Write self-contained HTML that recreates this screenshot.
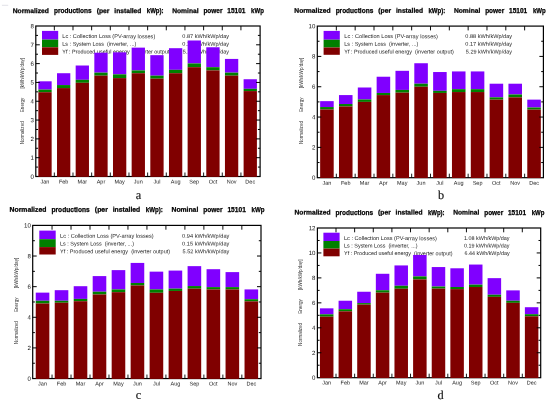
<!DOCTYPE html>
<html><head><meta charset="utf-8"><title>Normalized productions</title>
<style>
html,body{margin:0;padding:0;background:#fff;}
body{width:550px;height:404px;overflow:hidden;}
svg{display:block;filter:blur(0.35px);font-family:"Liberation Sans",Arial,sans-serif;}
</style></head><body>
<svg width="550" height="404" viewBox="0 0 550 404">
<rect width="550" height="404" fill="#fff"/>
<line x1="1.9" y1="5.3" x2="8.2" y2="5.3" stroke="#d4d4dc" stroke-width="0.7"/>
<g id="chart-a">
<text transform="matrix(1,.0005,0,1,0,0)" x="12.7" y="13.09" font-size="6.7" textLength="36.2" lengthAdjust="spacingAndGlyphs" font-weight="bold" fill="#000" stroke="#000" stroke-width="0.25">Normalized</text>
<text transform="matrix(1,.0005,0,1,0,0)" x="54" y="13.07" font-size="6.7" textLength="37.6" lengthAdjust="spacingAndGlyphs" font-weight="bold" fill="#000" stroke="#000" stroke-width="0.25">productions</text>
<text transform="matrix(1,.0005,0,1,0,0)" x="96.7" y="13.05" font-size="6.7" textLength="12.8" lengthAdjust="spacingAndGlyphs" font-weight="bold" fill="#000" stroke="#000" stroke-width="0.25">(per</text>
<text transform="matrix(1,.0005,0,1,0,0)" x="114.3" y="13.04" font-size="6.7" textLength="27.1" lengthAdjust="spacingAndGlyphs" font-weight="bold" fill="#000" stroke="#000" stroke-width="0.25">installed</text>
<text transform="matrix(1,.0005,0,1,0,0)" x="146.8" y="13.03" font-size="6.7" textLength="16.8" lengthAdjust="spacingAndGlyphs" font-weight="bold" fill="#000" stroke="#000" stroke-width="0.25">kWp):</text>
<text transform="matrix(1,.0005,0,1,0,0)" x="172.2" y="13.01" font-size="6.7" textLength="26.4" lengthAdjust="spacingAndGlyphs" font-weight="bold" fill="#000" stroke="#000" stroke-width="0.25">Nominal</text>
<text transform="matrix(1,.0005,0,1,0,0)" x="203.4" y="13" font-size="6.7" textLength="19.1" lengthAdjust="spacingAndGlyphs" font-weight="bold" fill="#000" stroke="#000" stroke-width="0.25">power</text>
<text transform="matrix(1,.0005,0,1,0,0)" x="227.3" y="12.99" font-size="6.7" textLength="18.1" lengthAdjust="spacingAndGlyphs" font-weight="bold" fill="#000" stroke="#000" stroke-width="0.25">15101</text>
<text transform="matrix(1,.0005,0,1,0,0)" x="251.1" y="12.97" font-size="6.7" textLength="12.8" lengthAdjust="spacingAndGlyphs" font-weight="bold" fill="#000" stroke="#000" stroke-width="0.25">kWp</text>
<rect x="42" y="30.9" width="16.2" height="8.7" fill="#8000ff"/>
<rect x="42" y="39.6" width="16.2" height="7.7" fill="#008000"/>
<rect x="42" y="47.3" width="16.2" height="7.6" fill="#800000"/>
<text transform="matrix(1,.0005,0,1,0,0)" x="62.3" y="38.07" font-size="5.5" textLength="93" lengthAdjust="spacingAndGlyphs" fill="#222" xml:space="preserve">Lc : Collection Loss (PV-array losses)</text>
<text transform="matrix(1,.0005,0,1,0,0)" x="182.3" y="38.01" font-size="5.5" textLength="46.8" lengthAdjust="spacingAndGlyphs" fill="#222">0.87 kWh/kWp/day</text>
<text transform="matrix(1,.0005,0,1,0,0)" x="62.3" y="45.77" font-size="5.5" textLength="74" lengthAdjust="spacingAndGlyphs" fill="#222" xml:space="preserve">Ls : System Loss  (inverter, ...)</text>
<text transform="matrix(1,.0005,0,1,0,0)" x="182.3" y="45.71" font-size="5.5" textLength="46.8" lengthAdjust="spacingAndGlyphs" fill="#222">0.17 kWh/kWp/day</text>
<text transform="matrix(1,.0005,0,1,0,0)" x="62.3" y="53.47" font-size="5.5" textLength="109" lengthAdjust="spacingAndGlyphs" fill="#222" xml:space="preserve">Yf : Produced useful energy  (inverter output)</text>
<text transform="matrix(1,.0005,0,1,0,0)" x="182.8" y="53.41" font-size="5.5" textLength="46.3" lengthAdjust="spacingAndGlyphs" fill="#222">5.29 kWh/kWp/day</text>
<rect x="35.8" y="26" width="224.3" height="150.5" fill="none" stroke="#000" stroke-width="1.2"/>
<rect x="38.35" y="81.31" width="13.3" height="8.28" fill="#8000ff"/>
<rect x="38.35" y="89.59" width="13.3" height="2.63" fill="#008000"/>
<rect x="38.35" y="92.22" width="13.3" height="84.63" fill="#800000"/>
<rect x="57.01" y="73.22" width="13.3" height="11.85" fill="#8000ff"/>
<rect x="57.01" y="85.07" width="13.3" height="3.01" fill="#008000"/>
<rect x="57.01" y="88.08" width="13.3" height="88.77" fill="#800000"/>
<rect x="75.67" y="65.51" width="13.3" height="14.3" fill="#8000ff"/>
<rect x="75.67" y="79.8" width="13.3" height="3.01" fill="#008000"/>
<rect x="75.67" y="82.81" width="13.3" height="94.04" fill="#800000"/>
<rect x="94.33" y="52.71" width="13.3" height="19.94" fill="#8000ff"/>
<rect x="94.33" y="72.66" width="13.3" height="3.01" fill="#008000"/>
<rect x="94.33" y="75.66" width="13.3" height="101.19" fill="#800000"/>
<rect x="112.99" y="52.34" width="13.3" height="22.01" fill="#8000ff"/>
<rect x="112.99" y="74.35" width="13.3" height="3.76" fill="#008000"/>
<rect x="112.99" y="78.11" width="13.3" height="98.74" fill="#800000"/>
<rect x="131.65" y="47.63" width="13.3" height="22.76" fill="#8000ff"/>
<rect x="131.65" y="70.4" width="13.3" height="2.82" fill="#008000"/>
<rect x="131.65" y="73.22" width="13.3" height="103.63" fill="#800000"/>
<rect x="150.31" y="55.16" width="13.3" height="20.51" fill="#8000ff"/>
<rect x="150.31" y="75.66" width="13.3" height="3.01" fill="#008000"/>
<rect x="150.31" y="78.67" width="13.3" height="98.17" fill="#800000"/>
<rect x="168.97" y="48.2" width="13.3" height="21.63" fill="#8000ff"/>
<rect x="168.97" y="69.83" width="13.3" height="3.39" fill="#008000"/>
<rect x="168.97" y="73.22" width="13.3" height="103.63" fill="#800000"/>
<rect x="187.63" y="40.49" width="13.3" height="22.95" fill="#8000ff"/>
<rect x="187.63" y="63.44" width="13.3" height="3.76" fill="#008000"/>
<rect x="187.63" y="67.2" width="13.3" height="109.65" fill="#800000"/>
<rect x="206.29" y="47.26" width="13.3" height="19.94" fill="#8000ff"/>
<rect x="206.29" y="67.2" width="13.3" height="3.2" fill="#008000"/>
<rect x="206.29" y="70.4" width="13.3" height="106.45" fill="#800000"/>
<rect x="224.95" y="58.92" width="13.3" height="13.73" fill="#8000ff"/>
<rect x="224.95" y="72.66" width="13.3" height="3.01" fill="#008000"/>
<rect x="224.95" y="75.66" width="13.3" height="101.19" fill="#800000"/>
<rect x="243.61" y="79.24" width="13.3" height="9.59" fill="#8000ff"/>
<rect x="243.61" y="88.83" width="13.3" height="2.26" fill="#008000"/>
<rect x="243.61" y="91.09" width="13.3" height="85.76" fill="#800000"/>
<text transform="matrix(1,.0005,0,1,0,0)" x="33.9" y="178.63" font-size="6.1" text-anchor="end" fill="#111">0</text>
<line x1="35.8" y1="167.09" x2="38" y2="167.09" stroke="#000" stroke-width="1"/>
<line x1="257.9" y1="167.09" x2="260.1" y2="167.09" stroke="#000" stroke-width="1"/>
<line x1="35.8" y1="157.69" x2="39.8" y2="157.69" stroke="#000" stroke-width="1"/>
<line x1="256.1" y1="157.69" x2="260.1" y2="157.69" stroke="#000" stroke-width="1"/>
<text transform="matrix(1,.0005,0,1,0,0)" x="33.9" y="159.82" font-size="6.1" text-anchor="end" fill="#111">1</text>
<line x1="35.8" y1="148.28" x2="38" y2="148.28" stroke="#000" stroke-width="1"/>
<line x1="257.9" y1="148.28" x2="260.1" y2="148.28" stroke="#000" stroke-width="1"/>
<line x1="35.8" y1="138.88" x2="39.8" y2="138.88" stroke="#000" stroke-width="1"/>
<line x1="256.1" y1="138.88" x2="260.1" y2="138.88" stroke="#000" stroke-width="1"/>
<text transform="matrix(1,.0005,0,1,0,0)" x="33.9" y="141.01" font-size="6.1" text-anchor="end" fill="#111">2</text>
<line x1="35.8" y1="129.47" x2="38" y2="129.47" stroke="#000" stroke-width="1"/>
<line x1="257.9" y1="129.47" x2="260.1" y2="129.47" stroke="#000" stroke-width="1"/>
<line x1="35.8" y1="120.06" x2="39.8" y2="120.06" stroke="#000" stroke-width="1"/>
<line x1="256.1" y1="120.06" x2="260.1" y2="120.06" stroke="#000" stroke-width="1"/>
<text transform="matrix(1,.0005,0,1,0,0)" x="33.9" y="122.2" font-size="6.1" text-anchor="end" fill="#111">3</text>
<line x1="35.8" y1="110.66" x2="38" y2="110.66" stroke="#000" stroke-width="1"/>
<line x1="257.9" y1="110.66" x2="260.1" y2="110.66" stroke="#000" stroke-width="1"/>
<line x1="35.8" y1="101.25" x2="39.8" y2="101.25" stroke="#000" stroke-width="1"/>
<line x1="256.1" y1="101.25" x2="260.1" y2="101.25" stroke="#000" stroke-width="1"/>
<text transform="matrix(1,.0005,0,1,0,0)" x="33.9" y="103.38" font-size="6.1" text-anchor="end" fill="#111">4</text>
<line x1="35.8" y1="91.84" x2="38" y2="91.84" stroke="#000" stroke-width="1"/>
<line x1="257.9" y1="91.84" x2="260.1" y2="91.84" stroke="#000" stroke-width="1"/>
<line x1="35.8" y1="82.44" x2="39.8" y2="82.44" stroke="#000" stroke-width="1"/>
<line x1="256.1" y1="82.44" x2="260.1" y2="82.44" stroke="#000" stroke-width="1"/>
<text transform="matrix(1,.0005,0,1,0,0)" x="33.9" y="84.57" font-size="6.1" text-anchor="end" fill="#111">5</text>
<line x1="35.8" y1="73.03" x2="38" y2="73.03" stroke="#000" stroke-width="1"/>
<line x1="257.9" y1="73.03" x2="260.1" y2="73.03" stroke="#000" stroke-width="1"/>
<line x1="35.8" y1="63.62" x2="39.8" y2="63.62" stroke="#000" stroke-width="1"/>
<line x1="256.1" y1="63.62" x2="260.1" y2="63.62" stroke="#000" stroke-width="1"/>
<text transform="matrix(1,.0005,0,1,0,0)" x="33.9" y="65.76" font-size="6.1" text-anchor="end" fill="#111">6</text>
<line x1="35.8" y1="54.22" x2="38" y2="54.22" stroke="#000" stroke-width="1"/>
<line x1="257.9" y1="54.22" x2="260.1" y2="54.22" stroke="#000" stroke-width="1"/>
<line x1="35.8" y1="44.81" x2="39.8" y2="44.81" stroke="#000" stroke-width="1"/>
<line x1="256.1" y1="44.81" x2="260.1" y2="44.81" stroke="#000" stroke-width="1"/>
<text transform="matrix(1,.0005,0,1,0,0)" x="33.9" y="46.95" font-size="6.1" text-anchor="end" fill="#111">7</text>
<line x1="35.8" y1="35.41" x2="38" y2="35.41" stroke="#000" stroke-width="1"/>
<line x1="257.9" y1="35.41" x2="260.1" y2="35.41" stroke="#000" stroke-width="1"/>
<text transform="matrix(1,.0005,0,1,0,0)" x="33.9" y="28.13" font-size="6.1" text-anchor="end" fill="#111">8</text>
<line x1="54.33" y1="26" x2="54.33" y2="30.3" stroke="#000" stroke-width="0.95"/>
<line x1="54.33" y1="172.5" x2="54.33" y2="176.5" stroke="#000" stroke-width="0.9"/>
<line x1="72.99" y1="26" x2="72.99" y2="30.3" stroke="#000" stroke-width="0.95"/>
<line x1="72.99" y1="172.5" x2="72.99" y2="176.5" stroke="#000" stroke-width="0.9"/>
<line x1="91.65" y1="26" x2="91.65" y2="30.3" stroke="#000" stroke-width="0.95"/>
<line x1="91.65" y1="172.5" x2="91.65" y2="176.5" stroke="#000" stroke-width="0.9"/>
<line x1="110.31" y1="26" x2="110.31" y2="30.3" stroke="#000" stroke-width="0.95"/>
<line x1="110.31" y1="172.5" x2="110.31" y2="176.5" stroke="#000" stroke-width="0.9"/>
<line x1="128.97" y1="26" x2="128.97" y2="30.3" stroke="#000" stroke-width="0.95"/>
<line x1="128.97" y1="172.5" x2="128.97" y2="176.5" stroke="#000" stroke-width="0.9"/>
<line x1="147.63" y1="26" x2="147.63" y2="30.3" stroke="#000" stroke-width="0.95"/>
<line x1="147.63" y1="172.5" x2="147.63" y2="176.5" stroke="#000" stroke-width="0.9"/>
<line x1="166.29" y1="26" x2="166.29" y2="30.3" stroke="#000" stroke-width="0.95"/>
<line x1="166.29" y1="172.5" x2="166.29" y2="176.5" stroke="#000" stroke-width="0.9"/>
<line x1="184.95" y1="26" x2="184.95" y2="30.3" stroke="#000" stroke-width="0.95"/>
<line x1="184.95" y1="172.5" x2="184.95" y2="176.5" stroke="#000" stroke-width="0.9"/>
<line x1="203.61" y1="26" x2="203.61" y2="30.3" stroke="#000" stroke-width="0.95"/>
<line x1="203.61" y1="172.5" x2="203.61" y2="176.5" stroke="#000" stroke-width="0.9"/>
<line x1="222.27" y1="26" x2="222.27" y2="30.3" stroke="#000" stroke-width="0.95"/>
<line x1="222.27" y1="172.5" x2="222.27" y2="176.5" stroke="#000" stroke-width="0.9"/>
<line x1="240.93" y1="26" x2="240.93" y2="30.3" stroke="#000" stroke-width="0.95"/>
<line x1="240.93" y1="172.5" x2="240.93" y2="176.5" stroke="#000" stroke-width="0.9"/>
<text transform="matrix(1,.0005,0,1,0,0)" x="45" y="183.58" font-size="5.5" text-anchor="middle" fill="#222">Jan</text>
<text transform="matrix(1,.0005,0,1,0,0)" x="63.66" y="183.57" font-size="5.5" text-anchor="middle" fill="#222">Feb</text>
<text transform="matrix(1,.0005,0,1,0,0)" x="82.32" y="183.56" font-size="5.5" text-anchor="middle" fill="#222">Mar</text>
<text transform="matrix(1,.0005,0,1,0,0)" x="100.98" y="183.55" font-size="5.5" text-anchor="middle" fill="#222">Apr</text>
<text transform="matrix(1,.0005,0,1,0,0)" x="119.64" y="183.54" font-size="5.5" text-anchor="middle" fill="#222">May</text>
<text transform="matrix(1,.0005,0,1,0,0)" x="138.3" y="183.53" font-size="5.5" text-anchor="middle" fill="#222">Jun</text>
<text transform="matrix(1,.0005,0,1,0,0)" x="156.96" y="183.52" font-size="5.5" text-anchor="middle" fill="#222">Jul</text>
<text transform="matrix(1,.0005,0,1,0,0)" x="175.62" y="183.51" font-size="5.5" text-anchor="middle" fill="#222">Aug</text>
<text transform="matrix(1,.0005,0,1,0,0)" x="194.28" y="183.5" font-size="5.5" text-anchor="middle" fill="#222">Sep</text>
<text transform="matrix(1,.0005,0,1,0,0)" x="212.94" y="183.49" font-size="5.5" text-anchor="middle" fill="#222">Oct</text>
<text transform="matrix(1,.0005,0,1,0,0)" x="231.6" y="183.48" font-size="5.5" text-anchor="middle" fill="#222">Nov</text>
<text transform="matrix(1,.0005,0,1,0,0)" x="250.26" y="183.47" font-size="5.5" text-anchor="middle" fill="#222">Dec</text>
<text transform="translate(24,132.8) rotate(-90)" font-size="4.55" text-anchor="middle" textLength="23" lengthAdjust="spacingAndGlyphs" fill="#333">Normalized</text>
<text transform="translate(24,104.9) rotate(-90)" font-size="4.55" text-anchor="middle" textLength="14.6" lengthAdjust="spacingAndGlyphs" fill="#333">Energy</text>
<text transform="translate(24,73.25) rotate(-90)" font-size="4.55" text-anchor="middle" textLength="30.5" lengthAdjust="spacingAndGlyphs" fill="#333">[kWh/kWp/day]</text>
<text transform="matrix(1,.0005,0,1,0,0)" x="138.5" y="198.83" font-size="12.3" text-anchor="middle" font-family="Liberation Serif, serif" fill="#111" stroke="#111" stroke-width="0.15">a</text>
</g>
<g id="chart-b">
<text transform="matrix(1,.0005,0,1,0,0)" x="294.3" y="12.65" font-size="6.71" textLength="36.23" lengthAdjust="spacingAndGlyphs" font-weight="bold" fill="#000" stroke="#000" stroke-width="0.25">Normalized</text>
<text transform="matrix(1,.0005,0,1,0,0)" x="335.63" y="12.63" font-size="6.71" textLength="37.63" lengthAdjust="spacingAndGlyphs" font-weight="bold" fill="#000" stroke="#000" stroke-width="0.25">productions</text>
<text transform="matrix(1,.0005,0,1,0,0)" x="378.37" y="12.61" font-size="6.71" textLength="12.81" lengthAdjust="spacingAndGlyphs" font-weight="bold" fill="#000" stroke="#000" stroke-width="0.25">(per</text>
<text transform="matrix(1,.0005,0,1,0,0)" x="395.98" y="12.6" font-size="6.71" textLength="27.12" lengthAdjust="spacingAndGlyphs" font-weight="bold" fill="#000" stroke="#000" stroke-width="0.25">installed</text>
<text transform="matrix(1,.0005,0,1,0,0)" x="428.51" y="12.59" font-size="6.71" textLength="16.81" lengthAdjust="spacingAndGlyphs" font-weight="bold" fill="#000" stroke="#000" stroke-width="0.25">kWp):</text>
<text transform="matrix(1,.0005,0,1,0,0)" x="453.93" y="12.57" font-size="6.71" textLength="26.42" lengthAdjust="spacingAndGlyphs" font-weight="bold" fill="#000" stroke="#000" stroke-width="0.25">Nominal</text>
<text transform="matrix(1,.0005,0,1,0,0)" x="485.15" y="12.56" font-size="6.71" textLength="19.12" lengthAdjust="spacingAndGlyphs" font-weight="bold" fill="#000" stroke="#000" stroke-width="0.25">power</text>
<text transform="matrix(1,.0005,0,1,0,0)" x="509.07" y="12.55" font-size="6.71" textLength="18.11" lengthAdjust="spacingAndGlyphs" font-weight="bold" fill="#000" stroke="#000" stroke-width="0.25">15101</text>
<text transform="matrix(1,.0005,0,1,0,0)" x="532.89" y="12.53" font-size="6.71" textLength="12.81" lengthAdjust="spacingAndGlyphs" font-weight="bold" fill="#000" stroke="#000" stroke-width="0.25">kWp</text>
<rect x="317.3" y="26.1" width="226.1" height="151.6" fill="none" stroke="#000" stroke-width="1.2"/>
<rect x="320.15" y="101.14" width="13.55" height="5.91" fill="#8000ff"/>
<rect x="320.15" y="107.05" width="13.55" height="2.43" fill="#008000"/>
<rect x="320.15" y="109.48" width="13.55" height="68.57" fill="#800000"/>
<rect x="338.98" y="95.08" width="13.55" height="8.94" fill="#8000ff"/>
<rect x="338.98" y="104.02" width="13.55" height="2.43" fill="#008000"/>
<rect x="338.98" y="106.45" width="13.55" height="71.6" fill="#800000"/>
<rect x="357.81" y="87.5" width="13.55" height="11.98" fill="#8000ff"/>
<rect x="357.81" y="99.47" width="13.55" height="2.43" fill="#008000"/>
<rect x="357.81" y="101.9" width="13.55" height="76.15" fill="#800000"/>
<rect x="376.64" y="76.73" width="13.55" height="16.22" fill="#8000ff"/>
<rect x="376.64" y="92.96" width="13.55" height="2.12" fill="#008000"/>
<rect x="376.64" y="95.08" width="13.55" height="82.97" fill="#800000"/>
<rect x="395.47" y="70.82" width="13.55" height="19.1" fill="#8000ff"/>
<rect x="395.47" y="89.92" width="13.55" height="2.73" fill="#008000"/>
<rect x="395.47" y="92.65" width="13.55" height="85.4" fill="#800000"/>
<rect x="414.3" y="63.24" width="13.55" height="20.47" fill="#8000ff"/>
<rect x="414.3" y="83.71" width="13.55" height="3.03" fill="#008000"/>
<rect x="414.3" y="86.74" width="13.55" height="91.31" fill="#800000"/>
<rect x="433.13" y="72.03" width="13.55" height="18.8" fill="#8000ff"/>
<rect x="433.13" y="90.83" width="13.55" height="2.12" fill="#008000"/>
<rect x="433.13" y="92.96" width="13.55" height="85.09" fill="#800000"/>
<rect x="451.96" y="71.43" width="13.55" height="17.74" fill="#8000ff"/>
<rect x="451.96" y="89.17" width="13.55" height="2.88" fill="#008000"/>
<rect x="451.96" y="92.05" width="13.55" height="86" fill="#800000"/>
<rect x="470.79" y="71.43" width="13.55" height="17.74" fill="#8000ff"/>
<rect x="470.79" y="89.17" width="13.55" height="2.88" fill="#008000"/>
<rect x="470.79" y="92.05" width="13.55" height="86" fill="#800000"/>
<rect x="489.62" y="83.71" width="13.55" height="13.64" fill="#8000ff"/>
<rect x="489.62" y="97.35" width="13.55" height="2.27" fill="#008000"/>
<rect x="489.62" y="99.63" width="13.55" height="78.42" fill="#800000"/>
<rect x="508.45" y="83.71" width="13.55" height="10.76" fill="#8000ff"/>
<rect x="508.45" y="94.47" width="13.55" height="2.88" fill="#008000"/>
<rect x="508.45" y="97.35" width="13.55" height="80.7" fill="#800000"/>
<rect x="527.28" y="99.63" width="13.55" height="7.88" fill="#8000ff"/>
<rect x="527.28" y="107.51" width="13.55" height="2.12" fill="#008000"/>
<rect x="527.28" y="109.63" width="13.55" height="68.42" fill="#800000"/>
<rect x="323.6" y="30.9" width="16.2" height="8.8" fill="#8000ff"/>
<rect x="323.6" y="39.7" width="16.2" height="7.8" fill="#008000"/>
<rect x="323.6" y="47.5" width="16.2" height="7.3" fill="#800000"/>
<text transform="matrix(1,.0005,0,1,0,0)" x="344.3" y="37.93" font-size="5.5" textLength="93.7" lengthAdjust="spacingAndGlyphs" fill="#222" xml:space="preserve">Lc : Collection Loss (PV-array losses)</text>
<text transform="matrix(1,.0005,0,1,0,0)" x="465.3" y="37.87" font-size="5.5" textLength="46.8" lengthAdjust="spacingAndGlyphs" fill="#222">0.88 kWh/kWp/day</text>
<text transform="matrix(1,.0005,0,1,0,0)" x="344.3" y="45.63" font-size="5.5" textLength="74" lengthAdjust="spacingAndGlyphs" fill="#222" xml:space="preserve">Ls : System Loss  (inverter, ...)</text>
<text transform="matrix(1,.0005,0,1,0,0)" x="465.3" y="45.57" font-size="5.5" textLength="46.8" lengthAdjust="spacingAndGlyphs" fill="#222">0.17 kWh/kWp/day</text>
<text transform="matrix(1,.0005,0,1,0,0)" x="344.3" y="53.33" font-size="5.5" textLength="109.5" lengthAdjust="spacingAndGlyphs" fill="#222" xml:space="preserve">Yf : Produced useful energy  (inverter output)</text>
<text transform="matrix(1,.0005,0,1,0,0)" x="465.8" y="53.27" font-size="5.5" textLength="46.3" lengthAdjust="spacingAndGlyphs" fill="#222">5.29 kWh/kWp/day</text>
<text transform="matrix(1,.0005,0,1,0,0)" x="315.4" y="179.69" font-size="6.1" text-anchor="end" fill="#111">0</text>
<line x1="317.3" y1="162.54" x2="319.5" y2="162.54" stroke="#000" stroke-width="1"/>
<line x1="541.2" y1="162.54" x2="543.4" y2="162.54" stroke="#000" stroke-width="1"/>
<line x1="317.3" y1="147.38" x2="321.3" y2="147.38" stroke="#000" stroke-width="1"/>
<line x1="539.4" y1="147.38" x2="543.4" y2="147.38" stroke="#000" stroke-width="1"/>
<text transform="matrix(1,.0005,0,1,0,0)" x="315.4" y="149.37" font-size="6.1" text-anchor="end" fill="#111">2</text>
<line x1="317.3" y1="132.22" x2="319.5" y2="132.22" stroke="#000" stroke-width="1"/>
<line x1="541.2" y1="132.22" x2="543.4" y2="132.22" stroke="#000" stroke-width="1"/>
<line x1="317.3" y1="117.06" x2="321.3" y2="117.06" stroke="#000" stroke-width="1"/>
<line x1="539.4" y1="117.06" x2="543.4" y2="117.06" stroke="#000" stroke-width="1"/>
<text transform="matrix(1,.0005,0,1,0,0)" x="315.4" y="119.05" font-size="6.1" text-anchor="end" fill="#111">4</text>
<line x1="317.3" y1="101.9" x2="319.5" y2="101.9" stroke="#000" stroke-width="1"/>
<line x1="541.2" y1="101.9" x2="543.4" y2="101.9" stroke="#000" stroke-width="1"/>
<line x1="317.3" y1="86.74" x2="321.3" y2="86.74" stroke="#000" stroke-width="1"/>
<line x1="539.4" y1="86.74" x2="543.4" y2="86.74" stroke="#000" stroke-width="1"/>
<text transform="matrix(1,.0005,0,1,0,0)" x="315.4" y="88.73" font-size="6.1" text-anchor="end" fill="#111">6</text>
<line x1="317.3" y1="71.58" x2="319.5" y2="71.58" stroke="#000" stroke-width="1"/>
<line x1="541.2" y1="71.58" x2="543.4" y2="71.58" stroke="#000" stroke-width="1"/>
<line x1="317.3" y1="56.42" x2="321.3" y2="56.42" stroke="#000" stroke-width="1"/>
<line x1="539.4" y1="56.42" x2="543.4" y2="56.42" stroke="#000" stroke-width="1"/>
<text transform="matrix(1,.0005,0,1,0,0)" x="315.4" y="58.41" font-size="6.1" text-anchor="end" fill="#111">8</text>
<line x1="317.3" y1="41.26" x2="319.5" y2="41.26" stroke="#000" stroke-width="1"/>
<line x1="541.2" y1="41.26" x2="543.4" y2="41.26" stroke="#000" stroke-width="1"/>
<text transform="matrix(1,.0005,0,1,0,0)" x="315.4" y="28.09" font-size="6.1" text-anchor="end" fill="#111">10</text>
<line x1="336.34" y1="26.1" x2="336.34" y2="30.4" stroke="#000" stroke-width="0.95"/>
<line x1="336.34" y1="173.7" x2="336.34" y2="177.7" stroke="#000" stroke-width="0.9"/>
<line x1="355.17" y1="26.1" x2="355.17" y2="30.4" stroke="#000" stroke-width="0.95"/>
<line x1="355.17" y1="173.7" x2="355.17" y2="177.7" stroke="#000" stroke-width="0.9"/>
<line x1="374" y1="26.1" x2="374" y2="30.4" stroke="#000" stroke-width="0.95"/>
<line x1="374" y1="173.7" x2="374" y2="177.7" stroke="#000" stroke-width="0.9"/>
<line x1="392.83" y1="26.1" x2="392.83" y2="30.4" stroke="#000" stroke-width="0.95"/>
<line x1="392.83" y1="173.7" x2="392.83" y2="177.7" stroke="#000" stroke-width="0.9"/>
<line x1="411.66" y1="26.1" x2="411.66" y2="30.4" stroke="#000" stroke-width="0.95"/>
<line x1="411.66" y1="173.7" x2="411.66" y2="177.7" stroke="#000" stroke-width="0.9"/>
<line x1="430.49" y1="26.1" x2="430.49" y2="30.4" stroke="#000" stroke-width="0.95"/>
<line x1="430.49" y1="173.7" x2="430.49" y2="177.7" stroke="#000" stroke-width="0.9"/>
<line x1="449.32" y1="26.1" x2="449.32" y2="30.4" stroke="#000" stroke-width="0.95"/>
<line x1="449.32" y1="173.7" x2="449.32" y2="177.7" stroke="#000" stroke-width="0.9"/>
<line x1="468.15" y1="26.1" x2="468.15" y2="30.4" stroke="#000" stroke-width="0.95"/>
<line x1="468.15" y1="173.7" x2="468.15" y2="177.7" stroke="#000" stroke-width="0.9"/>
<line x1="486.98" y1="26.1" x2="486.98" y2="30.4" stroke="#000" stroke-width="0.95"/>
<line x1="486.98" y1="173.7" x2="486.98" y2="177.7" stroke="#000" stroke-width="0.9"/>
<line x1="505.81" y1="26.1" x2="505.81" y2="30.4" stroke="#000" stroke-width="0.95"/>
<line x1="505.81" y1="173.7" x2="505.81" y2="177.7" stroke="#000" stroke-width="0.9"/>
<line x1="524.64" y1="26.1" x2="524.64" y2="30.4" stroke="#000" stroke-width="0.95"/>
<line x1="524.64" y1="173.7" x2="524.64" y2="177.7" stroke="#000" stroke-width="0.9"/>
<text transform="matrix(1,.0005,0,1,0,0)" x="326.92" y="184.54" font-size="5.5" text-anchor="middle" fill="#222">Jan</text>
<text transform="matrix(1,.0005,0,1,0,0)" x="345.75" y="184.53" font-size="5.5" text-anchor="middle" fill="#222">Feb</text>
<text transform="matrix(1,.0005,0,1,0,0)" x="364.58" y="184.52" font-size="5.5" text-anchor="middle" fill="#222">Mar</text>
<text transform="matrix(1,.0005,0,1,0,0)" x="383.41" y="184.51" font-size="5.5" text-anchor="middle" fill="#222">Apr</text>
<text transform="matrix(1,.0005,0,1,0,0)" x="402.24" y="184.5" font-size="5.5" text-anchor="middle" fill="#222">May</text>
<text transform="matrix(1,.0005,0,1,0,0)" x="421.07" y="184.49" font-size="5.5" text-anchor="middle" fill="#222">Jun</text>
<text transform="matrix(1,.0005,0,1,0,0)" x="439.9" y="184.48" font-size="5.5" text-anchor="middle" fill="#222">Jul</text>
<text transform="matrix(1,.0005,0,1,0,0)" x="458.73" y="184.47" font-size="5.5" text-anchor="middle" fill="#222">Aug</text>
<text transform="matrix(1,.0005,0,1,0,0)" x="477.56" y="184.46" font-size="5.5" text-anchor="middle" fill="#222">Sep</text>
<text transform="matrix(1,.0005,0,1,0,0)" x="496.39" y="184.45" font-size="5.5" text-anchor="middle" fill="#222">Oct</text>
<text transform="matrix(1,.0005,0,1,0,0)" x="515.22" y="184.44" font-size="5.5" text-anchor="middle" fill="#222">Nov</text>
<text transform="matrix(1,.0005,0,1,0,0)" x="534.05" y="184.43" font-size="5.5" text-anchor="middle" fill="#222">Dec</text>
<text transform="translate(303.2,132.55) rotate(-90)" font-size="4.55" text-anchor="middle" textLength="23" lengthAdjust="spacingAndGlyphs" fill="#333">Normalized</text>
<text transform="translate(303.2,104.65) rotate(-90)" font-size="4.55" text-anchor="middle" textLength="14.6" lengthAdjust="spacingAndGlyphs" fill="#333">Energy</text>
<text transform="translate(303.2,73) rotate(-90)" font-size="4.55" text-anchor="middle" textLength="30.5" lengthAdjust="spacingAndGlyphs" fill="#333">[kWh/kWp/day]</text>
<text transform="matrix(1,.0005,0,1,0,0)" x="441.2" y="198.68" font-size="12.3" text-anchor="middle" font-family="Liberation Serif, serif" fill="#111" stroke="#111" stroke-width="0.15">b</text>
</g>
<g id="chart-c">
<text transform="matrix(1,.0005,0,1,0,0)" x="9.6" y="211.8" font-size="6.8" textLength="36.75" lengthAdjust="spacingAndGlyphs" font-weight="bold" fill="#000" stroke="#000" stroke-width="0.25">Normalized</text>
<text transform="matrix(1,.0005,0,1,0,0)" x="51.52" y="211.77" font-size="6.8" textLength="38.17" lengthAdjust="spacingAndGlyphs" font-weight="bold" fill="#000" stroke="#000" stroke-width="0.25">productions</text>
<text transform="matrix(1,.0005,0,1,0,0)" x="94.87" y="211.75" font-size="6.8" textLength="12.99" lengthAdjust="spacingAndGlyphs" font-weight="bold" fill="#000" stroke="#000" stroke-width="0.25">(per</text>
<text transform="matrix(1,.0005,0,1,0,0)" x="112.74" y="211.74" font-size="6.8" textLength="27.51" lengthAdjust="spacingAndGlyphs" font-weight="bold" fill="#000" stroke="#000" stroke-width="0.25">installed</text>
<text transform="matrix(1,.0005,0,1,0,0)" x="145.73" y="211.73" font-size="6.8" textLength="17.05" lengthAdjust="spacingAndGlyphs" font-weight="bold" fill="#000" stroke="#000" stroke-width="0.25">kWp):</text>
<text transform="matrix(1,.0005,0,1,0,0)" x="171.51" y="211.71" font-size="6.8" textLength="26.8" lengthAdjust="spacingAndGlyphs" font-weight="bold" fill="#000" stroke="#000" stroke-width="0.25">Nominal</text>
<text transform="matrix(1,.0005,0,1,0,0)" x="203.18" y="211.7" font-size="6.8" textLength="19.39" lengthAdjust="spacingAndGlyphs" font-weight="bold" fill="#000" stroke="#000" stroke-width="0.25">power</text>
<text transform="matrix(1,.0005,0,1,0,0)" x="227.45" y="211.69" font-size="6.8" textLength="18.37" lengthAdjust="spacingAndGlyphs" font-weight="bold" fill="#000" stroke="#000" stroke-width="0.25">15101</text>
<text transform="matrix(1,.0005,0,1,0,0)" x="251.61" y="211.67" font-size="6.8" textLength="12.99" lengthAdjust="spacingAndGlyphs" font-weight="bold" fill="#000" stroke="#000" stroke-width="0.25">kWp</text>
<rect x="32.7" y="225.4" width="228.3" height="153.15" fill="none" stroke="#000" stroke-width="1.2"/>
<rect x="35.75" y="292.63" width="13.6" height="8.12" fill="#8000ff"/>
<rect x="35.75" y="300.75" width="13.6" height="2.76" fill="#008000"/>
<rect x="35.75" y="303.51" width="13.6" height="75.39" fill="#800000"/>
<rect x="54.73" y="290.18" width="13.6" height="10.57" fill="#8000ff"/>
<rect x="54.73" y="300.75" width="13.6" height="1.99" fill="#008000"/>
<rect x="54.73" y="302.74" width="13.6" height="76.16" fill="#800000"/>
<rect x="73.71" y="286.2" width="13.6" height="12.71" fill="#8000ff"/>
<rect x="73.71" y="298.91" width="13.6" height="2.3" fill="#008000"/>
<rect x="73.71" y="301.21" width="13.6" height="77.69" fill="#800000"/>
<rect x="92.69" y="276.09" width="13.6" height="15.62" fill="#8000ff"/>
<rect x="92.69" y="291.71" width="13.6" height="2.76" fill="#008000"/>
<rect x="92.69" y="294.47" width="13.6" height="84.43" fill="#800000"/>
<rect x="111.67" y="270.12" width="13.6" height="19.3" fill="#8000ff"/>
<rect x="111.67" y="289.42" width="13.6" height="2.76" fill="#008000"/>
<rect x="111.67" y="292.17" width="13.6" height="86.73" fill="#800000"/>
<rect x="130.65" y="262.92" width="13.6" height="20.06" fill="#8000ff"/>
<rect x="130.65" y="282.98" width="13.6" height="2.45" fill="#008000"/>
<rect x="130.65" y="285.43" width="13.6" height="93.47" fill="#800000"/>
<rect x="149.63" y="271.65" width="13.6" height="17.77" fill="#8000ff"/>
<rect x="149.63" y="289.42" width="13.6" height="3.37" fill="#008000"/>
<rect x="149.63" y="292.79" width="13.6" height="86.11" fill="#800000"/>
<rect x="168.61" y="270.58" width="13.6" height="18.07" fill="#8000ff"/>
<rect x="168.61" y="288.65" width="13.6" height="2.3" fill="#008000"/>
<rect x="168.61" y="290.95" width="13.6" height="87.95" fill="#800000"/>
<rect x="187.59" y="266.14" width="13.6" height="19.91" fill="#8000ff"/>
<rect x="187.59" y="286.05" width="13.6" height="2.6" fill="#008000"/>
<rect x="187.59" y="288.65" width="13.6" height="90.25" fill="#800000"/>
<rect x="206.57" y="269.2" width="13.6" height="17.92" fill="#8000ff"/>
<rect x="206.57" y="287.12" width="13.6" height="2.3" fill="#008000"/>
<rect x="206.57" y="289.42" width="13.6" height="89.48" fill="#800000"/>
<rect x="225.55" y="272.11" width="13.6" height="15.01" fill="#8000ff"/>
<rect x="225.55" y="287.12" width="13.6" height="2.3" fill="#008000"/>
<rect x="225.55" y="289.42" width="13.6" height="89.48" fill="#800000"/>
<rect x="244.53" y="289.42" width="13.6" height="9.8" fill="#8000ff"/>
<rect x="244.53" y="299.22" width="13.6" height="2.14" fill="#008000"/>
<rect x="244.53" y="301.36" width="13.6" height="77.54" fill="#800000"/>
<rect x="39.3" y="230.6" width="16.4" height="8.6" fill="#8000ff"/>
<rect x="39.3" y="239.2" width="16.4" height="7.9" fill="#008000"/>
<rect x="39.3" y="247.1" width="16.4" height="7.4" fill="#800000"/>
<text transform="matrix(1,.0005,0,1,0,0)" x="60" y="237.77" font-size="5.5" textLength="93.7" lengthAdjust="spacingAndGlyphs" fill="#222" xml:space="preserve">Lc : Collection Loss (PV-array losses)</text>
<text transform="matrix(1,.0005,0,1,0,0)" x="182.1" y="237.71" font-size="5.5" textLength="47.3" lengthAdjust="spacingAndGlyphs" fill="#222">0.94 kWh/kWp/day</text>
<text transform="matrix(1,.0005,0,1,0,0)" x="60" y="245.47" font-size="5.5" textLength="74" lengthAdjust="spacingAndGlyphs" fill="#222" xml:space="preserve">Ls : System Loss  (inverter, ...)</text>
<text transform="matrix(1,.0005,0,1,0,0)" x="182.1" y="245.41" font-size="5.5" textLength="47.3" lengthAdjust="spacingAndGlyphs" fill="#222">0.15 kWh/kWp/day</text>
<text transform="matrix(1,.0005,0,1,0,0)" x="60" y="253.17" font-size="5.5" textLength="110.1" lengthAdjust="spacingAndGlyphs" fill="#222" xml:space="preserve">Yf : Produced useful energy  (inverter output)</text>
<text transform="matrix(1,.0005,0,1,0,0)" x="182.6" y="253.11" font-size="5.5" textLength="46.8" lengthAdjust="spacingAndGlyphs" fill="#222">5.52 kWh/kWp/day</text>
<text transform="matrix(1,.0005,0,1,0,0)" x="30.8" y="380.68" font-size="6.1" text-anchor="end" fill="#111">0</text>
<line x1="32.7" y1="363.24" x2="34.9" y2="363.24" stroke="#000" stroke-width="1"/>
<line x1="258.8" y1="363.24" x2="261" y2="363.24" stroke="#000" stroke-width="1"/>
<line x1="32.7" y1="347.92" x2="36.7" y2="347.92" stroke="#000" stroke-width="1"/>
<line x1="257" y1="347.92" x2="261" y2="347.92" stroke="#000" stroke-width="1"/>
<text transform="matrix(1,.0005,0,1,0,0)" x="30.8" y="350.05" font-size="6.1" text-anchor="end" fill="#111">2</text>
<line x1="32.7" y1="332.61" x2="34.9" y2="332.61" stroke="#000" stroke-width="1"/>
<line x1="258.8" y1="332.61" x2="261" y2="332.61" stroke="#000" stroke-width="1"/>
<line x1="32.7" y1="317.29" x2="36.7" y2="317.29" stroke="#000" stroke-width="1"/>
<line x1="257" y1="317.29" x2="261" y2="317.29" stroke="#000" stroke-width="1"/>
<text transform="matrix(1,.0005,0,1,0,0)" x="30.8" y="319.42" font-size="6.1" text-anchor="end" fill="#111">4</text>
<line x1="32.7" y1="301.98" x2="34.9" y2="301.98" stroke="#000" stroke-width="1"/>
<line x1="258.8" y1="301.98" x2="261" y2="301.98" stroke="#000" stroke-width="1"/>
<line x1="32.7" y1="286.66" x2="36.7" y2="286.66" stroke="#000" stroke-width="1"/>
<line x1="257" y1="286.66" x2="261" y2="286.66" stroke="#000" stroke-width="1"/>
<text transform="matrix(1,.0005,0,1,0,0)" x="30.8" y="288.79" font-size="6.1" text-anchor="end" fill="#111">6</text>
<line x1="32.7" y1="271.35" x2="34.9" y2="271.35" stroke="#000" stroke-width="1"/>
<line x1="258.8" y1="271.35" x2="261" y2="271.35" stroke="#000" stroke-width="1"/>
<line x1="32.7" y1="256.03" x2="36.7" y2="256.03" stroke="#000" stroke-width="1"/>
<line x1="257" y1="256.03" x2="261" y2="256.03" stroke="#000" stroke-width="1"/>
<text transform="matrix(1,.0005,0,1,0,0)" x="30.8" y="258.16" font-size="6.1" text-anchor="end" fill="#111">8</text>
<line x1="32.7" y1="240.72" x2="34.9" y2="240.72" stroke="#000" stroke-width="1"/>
<line x1="258.8" y1="240.72" x2="261" y2="240.72" stroke="#000" stroke-width="1"/>
<text transform="matrix(1,.0005,0,1,0,0)" x="30.8" y="227.53" font-size="6.1" text-anchor="end" fill="#111">10</text>
<line x1="52.04" y1="225.4" x2="52.04" y2="229.7" stroke="#000" stroke-width="0.95"/>
<line x1="52.04" y1="374.55" x2="52.04" y2="378.55" stroke="#000" stroke-width="0.9"/>
<line x1="71.02" y1="225.4" x2="71.02" y2="229.7" stroke="#000" stroke-width="0.95"/>
<line x1="71.02" y1="374.55" x2="71.02" y2="378.55" stroke="#000" stroke-width="0.9"/>
<line x1="90" y1="225.4" x2="90" y2="229.7" stroke="#000" stroke-width="0.95"/>
<line x1="90" y1="374.55" x2="90" y2="378.55" stroke="#000" stroke-width="0.9"/>
<line x1="108.98" y1="225.4" x2="108.98" y2="229.7" stroke="#000" stroke-width="0.95"/>
<line x1="108.98" y1="374.55" x2="108.98" y2="378.55" stroke="#000" stroke-width="0.9"/>
<line x1="127.96" y1="225.4" x2="127.96" y2="229.7" stroke="#000" stroke-width="0.95"/>
<line x1="127.96" y1="374.55" x2="127.96" y2="378.55" stroke="#000" stroke-width="0.9"/>
<line x1="146.94" y1="225.4" x2="146.94" y2="229.7" stroke="#000" stroke-width="0.95"/>
<line x1="146.94" y1="374.55" x2="146.94" y2="378.55" stroke="#000" stroke-width="0.9"/>
<line x1="165.92" y1="225.4" x2="165.92" y2="229.7" stroke="#000" stroke-width="0.95"/>
<line x1="165.92" y1="374.55" x2="165.92" y2="378.55" stroke="#000" stroke-width="0.9"/>
<line x1="184.9" y1="225.4" x2="184.9" y2="229.7" stroke="#000" stroke-width="0.95"/>
<line x1="184.9" y1="374.55" x2="184.9" y2="378.55" stroke="#000" stroke-width="0.9"/>
<line x1="203.88" y1="225.4" x2="203.88" y2="229.7" stroke="#000" stroke-width="0.95"/>
<line x1="203.88" y1="374.55" x2="203.88" y2="378.55" stroke="#000" stroke-width="0.9"/>
<line x1="222.86" y1="225.4" x2="222.86" y2="229.7" stroke="#000" stroke-width="0.95"/>
<line x1="222.86" y1="374.55" x2="222.86" y2="378.55" stroke="#000" stroke-width="0.9"/>
<line x1="241.84" y1="225.4" x2="241.84" y2="229.7" stroke="#000" stroke-width="0.95"/>
<line x1="241.84" y1="374.55" x2="241.84" y2="378.55" stroke="#000" stroke-width="0.9"/>
<text transform="matrix(1,.0005,0,1,0,0)" x="42.55" y="385.48" font-size="5.5" text-anchor="middle" fill="#222">Jan</text>
<text transform="matrix(1,.0005,0,1,0,0)" x="61.53" y="385.47" font-size="5.5" text-anchor="middle" fill="#222">Feb</text>
<text transform="matrix(1,.0005,0,1,0,0)" x="80.51" y="385.46" font-size="5.5" text-anchor="middle" fill="#222">Mar</text>
<text transform="matrix(1,.0005,0,1,0,0)" x="99.49" y="385.45" font-size="5.5" text-anchor="middle" fill="#222">Apr</text>
<text transform="matrix(1,.0005,0,1,0,0)" x="118.47" y="385.44" font-size="5.5" text-anchor="middle" fill="#222">May</text>
<text transform="matrix(1,.0005,0,1,0,0)" x="137.45" y="385.43" font-size="5.5" text-anchor="middle" fill="#222">Jun</text>
<text transform="matrix(1,.0005,0,1,0,0)" x="156.43" y="385.42" font-size="5.5" text-anchor="middle" fill="#222">Jul</text>
<text transform="matrix(1,.0005,0,1,0,0)" x="175.41" y="385.41" font-size="5.5" text-anchor="middle" fill="#222">Aug</text>
<text transform="matrix(1,.0005,0,1,0,0)" x="194.39" y="385.4" font-size="5.5" text-anchor="middle" fill="#222">Sep</text>
<text transform="matrix(1,.0005,0,1,0,0)" x="213.37" y="385.39" font-size="5.5" text-anchor="middle" fill="#222">Oct</text>
<text transform="matrix(1,.0005,0,1,0,0)" x="232.35" y="385.38" font-size="5.5" text-anchor="middle" fill="#222">Nov</text>
<text transform="matrix(1,.0005,0,1,0,0)" x="251.33" y="385.37" font-size="5.5" text-anchor="middle" fill="#222">Dec</text>
<text transform="translate(18.2,332.63) rotate(-90)" font-size="4.55" text-anchor="middle" textLength="23" lengthAdjust="spacingAndGlyphs" fill="#333">Normalized</text>
<text transform="translate(18.2,304.73) rotate(-90)" font-size="4.55" text-anchor="middle" textLength="14.6" lengthAdjust="spacingAndGlyphs" fill="#333">Energy</text>
<text transform="translate(18.2,273.08) rotate(-90)" font-size="4.55" text-anchor="middle" textLength="30.5" lengthAdjust="spacingAndGlyphs" fill="#333">[kWh/kWp/day]</text>
<text transform="matrix(1,.0005,0,1,0,0)" x="138.6" y="398.73" font-size="12.3" text-anchor="middle" font-family="Liberation Serif, serif" fill="#111" stroke="#111" stroke-width="0.15">c</text>
</g>
<g id="chart-d">
<text transform="matrix(1,.0005,0,1,0,0)" x="294.5" y="214.45" font-size="6.67" textLength="36.01" lengthAdjust="spacingAndGlyphs" font-weight="bold" fill="#000" stroke="#000" stroke-width="0.25">Normalized</text>
<text transform="matrix(1,.0005,0,1,0,0)" x="335.59" y="214.43" font-size="6.67" textLength="37.41" lengthAdjust="spacingAndGlyphs" font-weight="bold" fill="#000" stroke="#000" stroke-width="0.25">productions</text>
<text transform="matrix(1,.0005,0,1,0,0)" x="378.07" y="214.41" font-size="6.67" textLength="12.73" lengthAdjust="spacingAndGlyphs" font-weight="bold" fill="#000" stroke="#000" stroke-width="0.25">(per</text>
<text transform="matrix(1,.0005,0,1,0,0)" x="395.57" y="214.4" font-size="6.67" textLength="26.96" lengthAdjust="spacingAndGlyphs" font-weight="bold" fill="#000" stroke="#000" stroke-width="0.25">installed</text>
<text transform="matrix(1,.0005,0,1,0,0)" x="427.91" y="214.39" font-size="6.67" textLength="16.71" lengthAdjust="spacingAndGlyphs" font-weight="bold" fill="#000" stroke="#000" stroke-width="0.25">kWp):</text>
<text transform="matrix(1,.0005,0,1,0,0)" x="453.17" y="214.37" font-size="6.67" textLength="26.26" lengthAdjust="spacingAndGlyphs" font-weight="bold" fill="#000" stroke="#000" stroke-width="0.25">Nominal</text>
<text transform="matrix(1,.0005,0,1,0,0)" x="484.21" y="214.36" font-size="6.67" textLength="19" lengthAdjust="spacingAndGlyphs" font-weight="bold" fill="#000" stroke="#000" stroke-width="0.25">power</text>
<text transform="matrix(1,.0005,0,1,0,0)" x="507.99" y="214.35" font-size="6.67" textLength="18.01" lengthAdjust="spacingAndGlyphs" font-weight="bold" fill="#000" stroke="#000" stroke-width="0.25">15101</text>
<text transform="matrix(1,.0005,0,1,0,0)" x="531.67" y="214.33" font-size="6.67" textLength="12.73" lengthAdjust="spacingAndGlyphs" font-weight="bold" fill="#000" stroke="#000" stroke-width="0.25">kWp</text>
<rect x="323.4" y="232.7" width="16.2" height="8.3" fill="#8000ff"/>
<rect x="323.4" y="241" width="16.2" height="7.6" fill="#008000"/>
<rect x="323.4" y="248.6" width="16.2" height="7.7" fill="#800000"/>
<text transform="matrix(1,.0005,0,1,0,0)" x="344" y="239.93" font-size="5.5" textLength="93" lengthAdjust="spacingAndGlyphs" fill="#222" xml:space="preserve">Lc : Collection Loss (PV-array losses)</text>
<text transform="matrix(1,.0005,0,1,0,0)" x="464" y="239.87" font-size="5.5" textLength="45.6" lengthAdjust="spacingAndGlyphs" fill="#222">1.08 kWh/kWp/day</text>
<text transform="matrix(1,.0005,0,1,0,0)" x="344" y="247.23" font-size="5.5" textLength="73.5" lengthAdjust="spacingAndGlyphs" fill="#222" xml:space="preserve">Ls : System Loss  (inverter, ...)</text>
<text transform="matrix(1,.0005,0,1,0,0)" x="464" y="247.17" font-size="5.5" textLength="45.6" lengthAdjust="spacingAndGlyphs" fill="#222">0.19 kWh/kWp/day</text>
<text transform="matrix(1,.0005,0,1,0,0)" x="344" y="254.93" font-size="5.5" textLength="108.5" lengthAdjust="spacingAndGlyphs" fill="#222" xml:space="preserve">Yf : Produced useful energy  (inverter output)</text>
<text transform="matrix(1,.0005,0,1,0,0)" x="464.5" y="254.87" font-size="5.5" textLength="45.1" lengthAdjust="spacingAndGlyphs" fill="#222">6.44 kWh/kWp/day</text>
<rect x="317.4" y="228" width="223.3" height="149.7" fill="none" stroke="#000" stroke-width="1.2"/>
<rect x="319.95" y="308.34" width="13.5" height="5.99" fill="#8000ff"/>
<rect x="319.95" y="314.33" width="13.5" height="2.37" fill="#008000"/>
<rect x="319.95" y="316.7" width="13.5" height="61.35" fill="#800000"/>
<rect x="338.58" y="300.73" width="13.5" height="8.48" fill="#8000ff"/>
<rect x="338.58" y="309.21" width="13.5" height="2.12" fill="#008000"/>
<rect x="338.58" y="311.33" width="13.5" height="66.72" fill="#800000"/>
<rect x="357.21" y="291.75" width="13.5" height="11.35" fill="#8000ff"/>
<rect x="357.21" y="303.1" width="13.5" height="1.5" fill="#008000"/>
<rect x="357.21" y="304.6" width="13.5" height="73.45" fill="#800000"/>
<rect x="375.84" y="273.78" width="13.5" height="16.47" fill="#8000ff"/>
<rect x="375.84" y="290.25" width="13.5" height="2.37" fill="#008000"/>
<rect x="375.84" y="292.62" width="13.5" height="85.43" fill="#800000"/>
<rect x="394.47" y="265.43" width="13.5" height="20.33" fill="#8000ff"/>
<rect x="394.47" y="285.76" width="13.5" height="2.99" fill="#008000"/>
<rect x="394.47" y="288.75" width="13.5" height="89.3" fill="#800000"/>
<rect x="413.1" y="254.95" width="13.5" height="21.46" fill="#8000ff"/>
<rect x="413.1" y="276.4" width="13.5" height="2.99" fill="#008000"/>
<rect x="413.1" y="279.4" width="13.5" height="98.65" fill="#800000"/>
<rect x="431.73" y="267.05" width="13.5" height="19.46" fill="#8000ff"/>
<rect x="431.73" y="286.51" width="13.5" height="2.12" fill="#008000"/>
<rect x="431.73" y="288.63" width="13.5" height="89.42" fill="#800000"/>
<rect x="450.36" y="268.29" width="13.5" height="18.71" fill="#8000ff"/>
<rect x="450.36" y="287.01" width="13.5" height="2.12" fill="#008000"/>
<rect x="450.36" y="289.13" width="13.5" height="88.92" fill="#800000"/>
<rect x="468.99" y="264.55" width="13.5" height="20.08" fill="#8000ff"/>
<rect x="468.99" y="284.64" width="13.5" height="2.37" fill="#008000"/>
<rect x="468.99" y="287.01" width="13.5" height="91.04" fill="#800000"/>
<rect x="487.62" y="278.15" width="13.5" height="16.59" fill="#8000ff"/>
<rect x="487.62" y="294.74" width="13.5" height="2.12" fill="#008000"/>
<rect x="487.62" y="296.86" width="13.5" height="81.19" fill="#800000"/>
<rect x="506.25" y="290.38" width="13.5" height="10.35" fill="#8000ff"/>
<rect x="506.25" y="300.73" width="13.5" height="2.12" fill="#008000"/>
<rect x="506.25" y="302.85" width="13.5" height="75.2" fill="#800000"/>
<rect x="524.88" y="307.22" width="13.5" height="6.99" fill="#8000ff"/>
<rect x="524.88" y="314.2" width="13.5" height="2.12" fill="#008000"/>
<rect x="524.88" y="316.32" width="13.5" height="61.73" fill="#800000"/>
<text transform="matrix(1,.0005,0,1,0,0)" x="315.5" y="379.69" font-size="6.1" text-anchor="end" fill="#111">0</text>
<line x1="317.4" y1="365.22" x2="319.6" y2="365.22" stroke="#000" stroke-width="1"/>
<line x1="538.5" y1="365.22" x2="540.7" y2="365.22" stroke="#000" stroke-width="1"/>
<line x1="317.4" y1="352.75" x2="321.4" y2="352.75" stroke="#000" stroke-width="1"/>
<line x1="536.7" y1="352.75" x2="540.7" y2="352.75" stroke="#000" stroke-width="1"/>
<text transform="matrix(1,.0005,0,1,0,0)" x="315.5" y="354.74" font-size="6.1" text-anchor="end" fill="#111">2</text>
<line x1="317.4" y1="340.27" x2="319.6" y2="340.27" stroke="#000" stroke-width="1"/>
<line x1="538.5" y1="340.27" x2="540.7" y2="340.27" stroke="#000" stroke-width="1"/>
<line x1="317.4" y1="327.8" x2="321.4" y2="327.8" stroke="#000" stroke-width="1"/>
<line x1="536.7" y1="327.8" x2="540.7" y2="327.8" stroke="#000" stroke-width="1"/>
<text transform="matrix(1,.0005,0,1,0,0)" x="315.5" y="329.79" font-size="6.1" text-anchor="end" fill="#111">4</text>
<line x1="317.4" y1="315.32" x2="319.6" y2="315.32" stroke="#000" stroke-width="1"/>
<line x1="538.5" y1="315.32" x2="540.7" y2="315.32" stroke="#000" stroke-width="1"/>
<line x1="317.4" y1="302.85" x2="321.4" y2="302.85" stroke="#000" stroke-width="1"/>
<line x1="536.7" y1="302.85" x2="540.7" y2="302.85" stroke="#000" stroke-width="1"/>
<text transform="matrix(1,.0005,0,1,0,0)" x="315.5" y="304.84" font-size="6.1" text-anchor="end" fill="#111">6</text>
<line x1="317.4" y1="290.38" x2="319.6" y2="290.38" stroke="#000" stroke-width="1"/>
<line x1="538.5" y1="290.38" x2="540.7" y2="290.38" stroke="#000" stroke-width="1"/>
<line x1="317.4" y1="277.9" x2="321.4" y2="277.9" stroke="#000" stroke-width="1"/>
<line x1="536.7" y1="277.9" x2="540.7" y2="277.9" stroke="#000" stroke-width="1"/>
<text transform="matrix(1,.0005,0,1,0,0)" x="315.5" y="279.89" font-size="6.1" text-anchor="end" fill="#111">8</text>
<line x1="317.4" y1="265.43" x2="319.6" y2="265.43" stroke="#000" stroke-width="1"/>
<line x1="538.5" y1="265.43" x2="540.7" y2="265.43" stroke="#000" stroke-width="1"/>
<line x1="317.4" y1="252.95" x2="321.4" y2="252.95" stroke="#000" stroke-width="1"/>
<line x1="536.7" y1="252.95" x2="540.7" y2="252.95" stroke="#000" stroke-width="1"/>
<text transform="matrix(1,.0005,0,1,0,0)" x="315.5" y="254.94" font-size="6.1" text-anchor="end" fill="#111">10</text>
<line x1="317.4" y1="240.47" x2="319.6" y2="240.47" stroke="#000" stroke-width="1"/>
<line x1="538.5" y1="240.47" x2="540.7" y2="240.47" stroke="#000" stroke-width="1"/>
<text transform="matrix(1,.0005,0,1,0,0)" x="315.5" y="229.99" font-size="6.1" text-anchor="end" fill="#111">12</text>
<line x1="336.01" y1="228" x2="336.01" y2="232.3" stroke="#000" stroke-width="0.95"/>
<line x1="336.01" y1="373.7" x2="336.01" y2="377.7" stroke="#000" stroke-width="0.9"/>
<line x1="354.64" y1="228" x2="354.64" y2="232.3" stroke="#000" stroke-width="0.95"/>
<line x1="354.64" y1="373.7" x2="354.64" y2="377.7" stroke="#000" stroke-width="0.9"/>
<line x1="373.27" y1="228" x2="373.27" y2="232.3" stroke="#000" stroke-width="0.95"/>
<line x1="373.27" y1="373.7" x2="373.27" y2="377.7" stroke="#000" stroke-width="0.9"/>
<line x1="391.9" y1="228" x2="391.9" y2="232.3" stroke="#000" stroke-width="0.95"/>
<line x1="391.9" y1="373.7" x2="391.9" y2="377.7" stroke="#000" stroke-width="0.9"/>
<line x1="410.53" y1="228" x2="410.53" y2="232.3" stroke="#000" stroke-width="0.95"/>
<line x1="410.53" y1="373.7" x2="410.53" y2="377.7" stroke="#000" stroke-width="0.9"/>
<line x1="429.17" y1="228" x2="429.17" y2="232.3" stroke="#000" stroke-width="0.95"/>
<line x1="429.17" y1="373.7" x2="429.17" y2="377.7" stroke="#000" stroke-width="0.9"/>
<line x1="447.8" y1="228" x2="447.8" y2="232.3" stroke="#000" stroke-width="0.95"/>
<line x1="447.8" y1="373.7" x2="447.8" y2="377.7" stroke="#000" stroke-width="0.9"/>
<line x1="466.43" y1="228" x2="466.43" y2="232.3" stroke="#000" stroke-width="0.95"/>
<line x1="466.43" y1="373.7" x2="466.43" y2="377.7" stroke="#000" stroke-width="0.9"/>
<line x1="485.06" y1="228" x2="485.06" y2="232.3" stroke="#000" stroke-width="0.95"/>
<line x1="485.06" y1="373.7" x2="485.06" y2="377.7" stroke="#000" stroke-width="0.9"/>
<line x1="503.69" y1="228" x2="503.69" y2="232.3" stroke="#000" stroke-width="0.95"/>
<line x1="503.69" y1="373.7" x2="503.69" y2="377.7" stroke="#000" stroke-width="0.9"/>
<line x1="522.31" y1="228" x2="522.31" y2="232.3" stroke="#000" stroke-width="0.95"/>
<line x1="522.31" y1="373.7" x2="522.31" y2="377.7" stroke="#000" stroke-width="0.9"/>
<text transform="matrix(1,.0005,0,1,0,0)" x="326.7" y="384.44" font-size="5.5" text-anchor="middle" fill="#222">Jan</text>
<text transform="matrix(1,.0005,0,1,0,0)" x="345.33" y="384.43" font-size="5.5" text-anchor="middle" fill="#222">Feb</text>
<text transform="matrix(1,.0005,0,1,0,0)" x="363.96" y="384.42" font-size="5.5" text-anchor="middle" fill="#222">Mar</text>
<text transform="matrix(1,.0005,0,1,0,0)" x="382.59" y="384.41" font-size="5.5" text-anchor="middle" fill="#222">Apr</text>
<text transform="matrix(1,.0005,0,1,0,0)" x="401.22" y="384.4" font-size="5.5" text-anchor="middle" fill="#222">May</text>
<text transform="matrix(1,.0005,0,1,0,0)" x="419.85" y="384.39" font-size="5.5" text-anchor="middle" fill="#222">Jun</text>
<text transform="matrix(1,.0005,0,1,0,0)" x="438.48" y="384.38" font-size="5.5" text-anchor="middle" fill="#222">Jul</text>
<text transform="matrix(1,.0005,0,1,0,0)" x="457.11" y="384.37" font-size="5.5" text-anchor="middle" fill="#222">Aug</text>
<text transform="matrix(1,.0005,0,1,0,0)" x="475.74" y="384.36" font-size="5.5" text-anchor="middle" fill="#222">Sep</text>
<text transform="matrix(1,.0005,0,1,0,0)" x="494.37" y="384.35" font-size="5.5" text-anchor="middle" fill="#222">Oct</text>
<text transform="matrix(1,.0005,0,1,0,0)" x="513" y="384.34" font-size="5.5" text-anchor="middle" fill="#222">Nov</text>
<text transform="matrix(1,.0005,0,1,0,0)" x="531.63" y="384.33" font-size="5.5" text-anchor="middle" fill="#222">Dec</text>
<text transform="translate(302.1,334.4) rotate(-90)" font-size="4.55" text-anchor="middle" textLength="23" lengthAdjust="spacingAndGlyphs" fill="#333">Normalized</text>
<text transform="translate(302.1,306.5) rotate(-90)" font-size="4.55" text-anchor="middle" textLength="14.6" lengthAdjust="spacingAndGlyphs" fill="#333">Energy</text>
<text transform="translate(302.1,274.85) rotate(-90)" font-size="4.55" text-anchor="middle" textLength="30.5" lengthAdjust="spacingAndGlyphs" fill="#333">[kWh/kWp/day]</text>
<text transform="matrix(1,.0005,0,1,0,0)" x="440.6" y="398.78" font-size="12.3" text-anchor="middle" font-family="Liberation Serif, serif" fill="#111" stroke="#111" stroke-width="0.15">d</text>
</g>
</svg>
</body></html>
